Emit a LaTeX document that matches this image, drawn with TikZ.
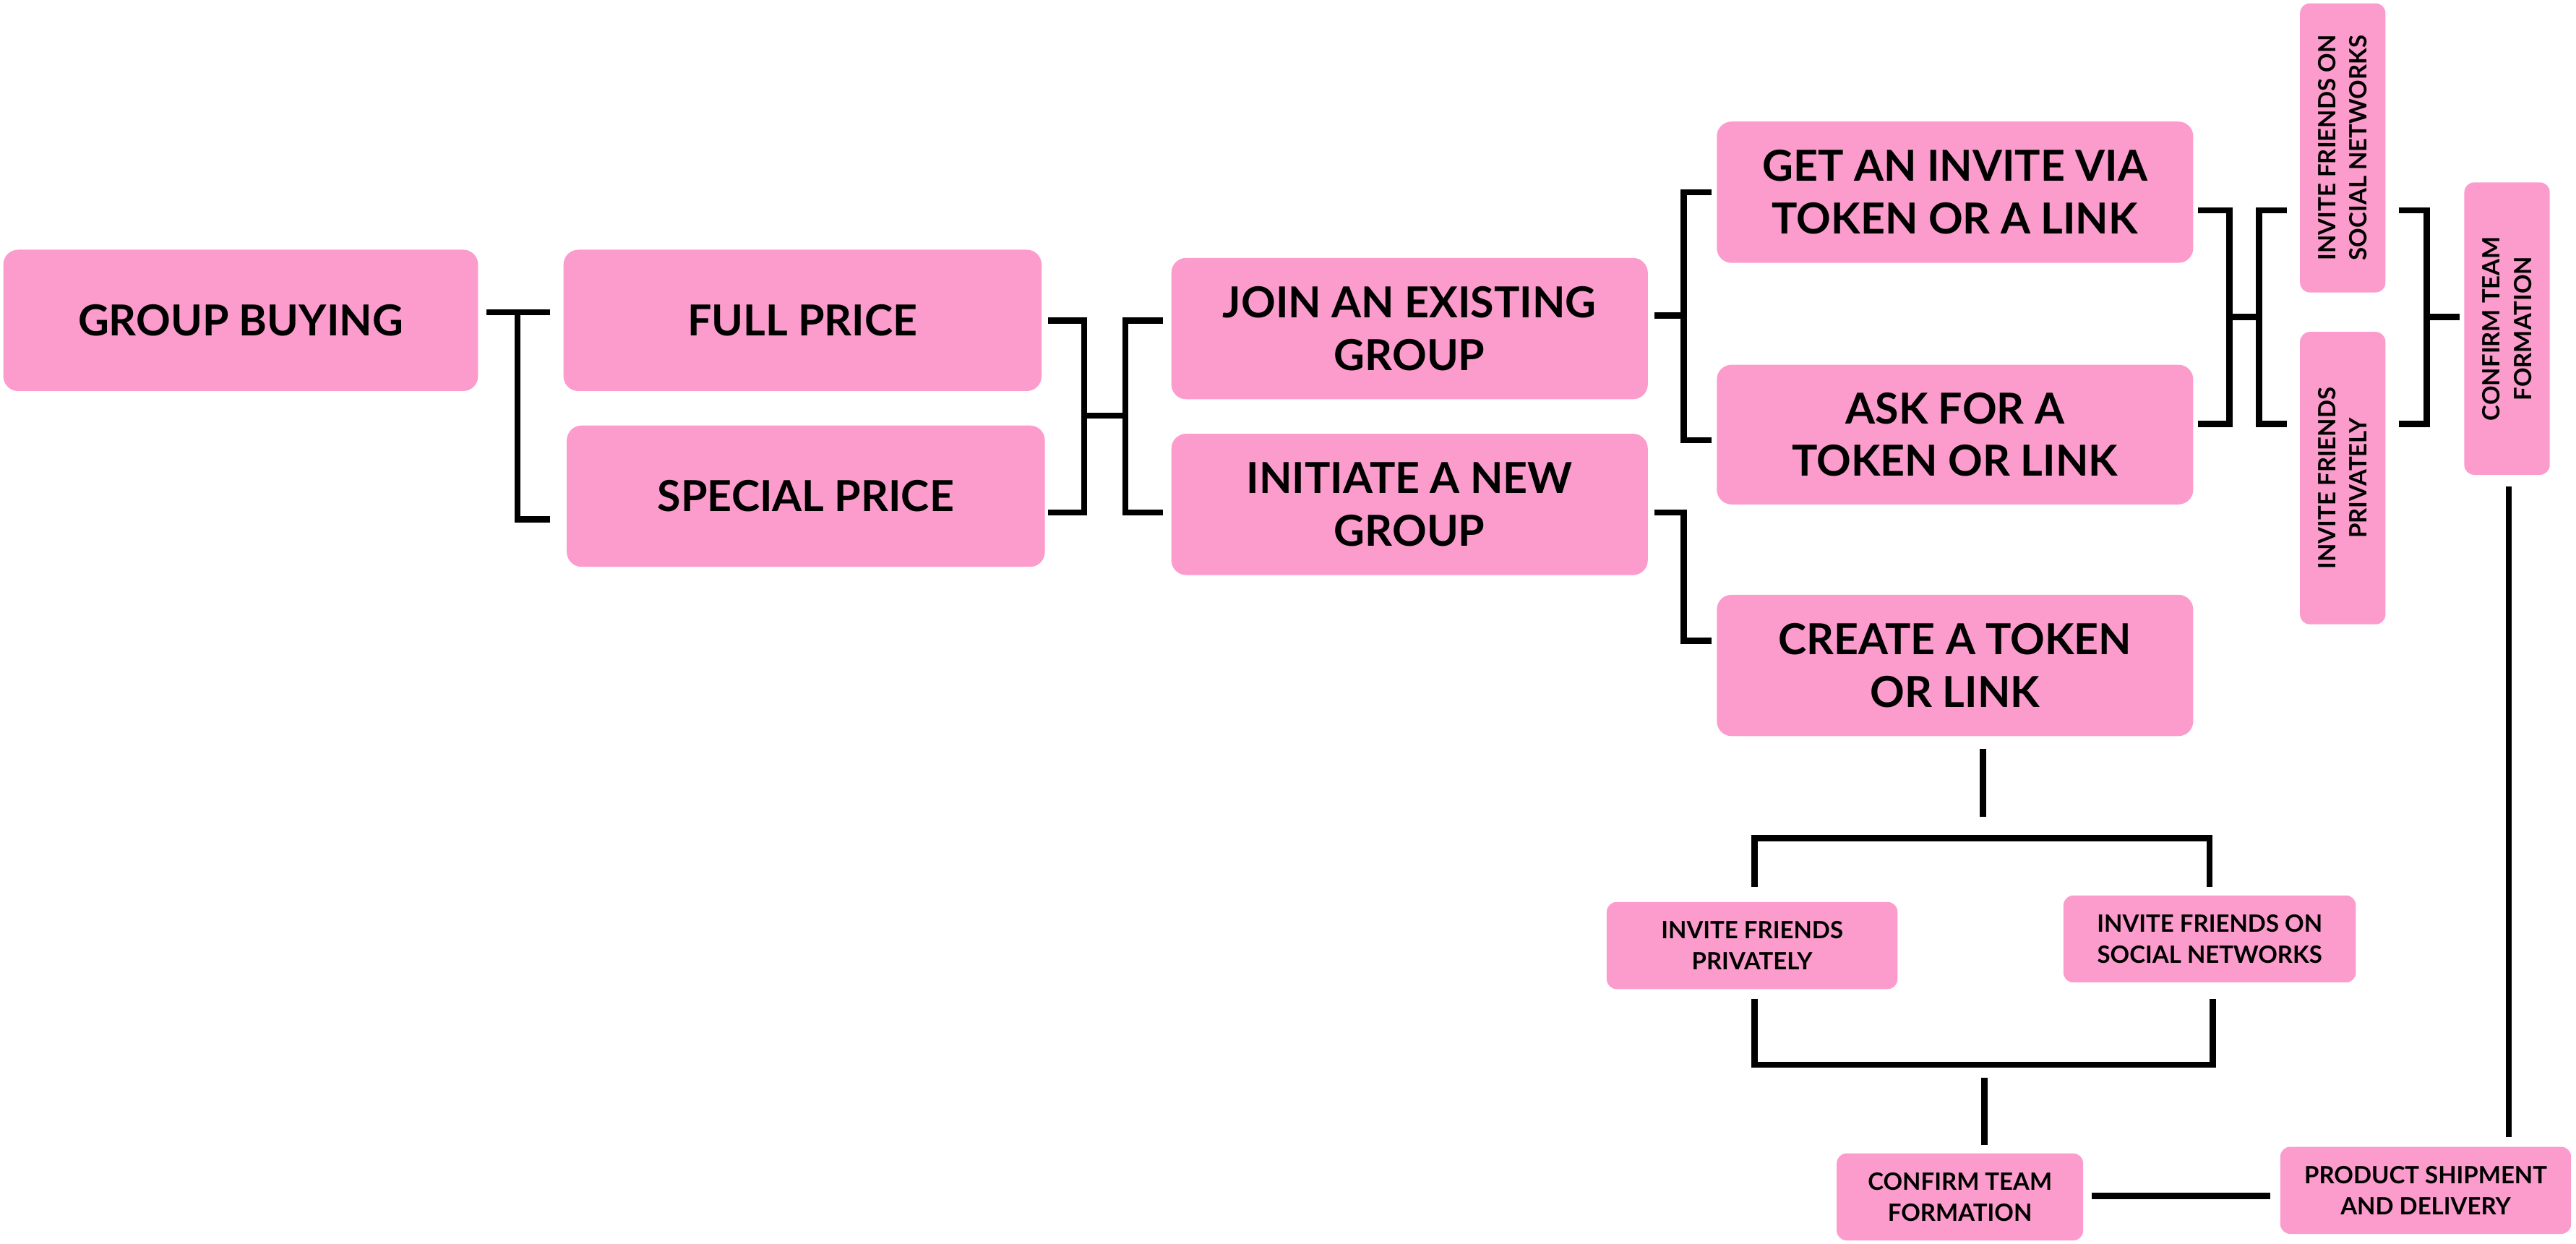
\documentclass[tikz,border=0pt]{standalone}
\usepackage{fontspec}
\setmainfont{Lato}
\definecolor{pk}{HTML}{FC9CCC}
\begin{document}
\begin{tikzpicture}[x=1pt,y=-1pt,
 box/.style={fill=pk,rounded corners=9pt,inner sep=2pt,align=center,font=\bfseries\fontsize{26}{32}\selectfont},
 sbox/.style={fill=pk,rounded corners=6pt,inner sep=1pt,align=center,font=\bfseries\fontsize{14.5}{19}\selectfont},
 ln/.style={line width=3.8pt}]
\useasboundingbox (0,0) rectangle (1568,757);
\newcommand{\bx}[6]{\node[#1,minimum width={#4-#2},minimum height={#5-#3}] (#6) at ({(#2+#4)/2},{(#3+#5)/2}) {};}
\bx{box}{2}{152}{291}{238}{gb}\node[box,fill=none] at (gb) {GROUP BUYING};
\bx{box}{343}{152}{634}{238}{fp}\node[box,fill=none] at (fp) {FULL PRICE};
\bx{box}{345}{259}{636}{345}{sp}\node[box,fill=none] at (sp) {SPECIAL PRICE};
\bx{box}{713}{157}{1003}{243}{jg}\node[box,fill=none] at (jg) {JOIN AN EXISTING\\GROUP};
\bx{box}{713}{264}{1003}{350}{ig}\node[box,fill=none] at (ig) {INITIATE A NEW\\GROUP};
\bx{box}{1045}{74}{1335}{160}{gi}\node[box,fill=none] at (gi) {GET AN INVITE VIA\\TOKEN OR A LINK};
\bx{box}{1045}{222}{1335}{307}{ak}\node[box,fill=none] at (ak) {ASK FOR A\\TOKEN OR LINK};
\bx{box}{1045}{362}{1335}{448}{ct}\node[box,fill=none] at (ct) {CREATE A TOKEN\\OR LINK};
\bx{sbox}{1400}{2}{1452}{178}{vs}\node[sbox,fill=none,rotate=90] at (vs) {INVITE FRIENDS ON\\SOCIAL NETWORKS};
\bx{sbox}{1400}{202}{1452}{380}{vp}\node[sbox,fill=none,rotate=90] at (vp) {INVITE FRIENDS\\PRIVATELY};
\bx{sbox}{1500}{111}{1552}{289}{vc}\node[sbox,fill=none,rotate=90] at (vc) {CONFIRM TEAM\\FORMATION};
\bx{sbox}{978}{549}{1155}{602}{bp}\node[sbox,fill=none] at (bp) {INVITE FRIENDS\\PRIVATELY};
\bx{sbox}{1256}{545}{1434}{598}{bs}\node[sbox,fill=none] at (bs) {INVITE FRIENDS ON\\SOCIAL NETWORKS};
\bx{sbox}{1118}{702}{1268}{755}{bc}\node[sbox,fill=none] at (bc) {CONFIRM TEAM\\FORMATION};
\bx{sbox}{1388}{698}{1565}{751}{ps}\node[sbox,fill=none] at (ps) {PRODUCT SHIPMENT\\AND DELIVERY};
% connectors
\draw[ln] (296,190)--(315,190);
\draw[ln] (335,190)--(315,190)--(315,316)--(335,316);
\draw[ln] (638,195)--(660,195)--(660,312)--(638,312);
\draw[ln] (660,253)--(685,253);
\draw[ln] (708,195)--(685,195)--(685,312)--(708,312);
\draw[ln] (1007,192)--(1025,192);
\draw[ln] (1042,117)--(1025,117)--(1025,268)--(1042,268);
\draw[ln] (1007,312)--(1025,312)--(1025,390)--(1042,390);
\draw[ln] (1338,128)--(1357,128)--(1357,258)--(1338,258);
\draw[ln] (1357,193)--(1375,193);
\draw[ln] (1392,128)--(1375,128)--(1375,258)--(1392,258);
\draw[ln] (1460,128)--(1477,128)--(1477,258)--(1460,258);
\draw[ln] (1477,193)--(1497,193);
\draw[ln] (1527,296)--(1527,692);
\draw[ln] (1207,456)--(1207,497);
\draw[ln] (1068,540)--(1068,510)--(1345,510)--(1345,540);
\draw[ln] (1068,608)--(1068,648)--(1347,648)--(1347,608);
\draw[ln] (1208,656)--(1208,697);
\draw[ln] (1273,728)--(1382,728);
\end{tikzpicture}
\end{document}
